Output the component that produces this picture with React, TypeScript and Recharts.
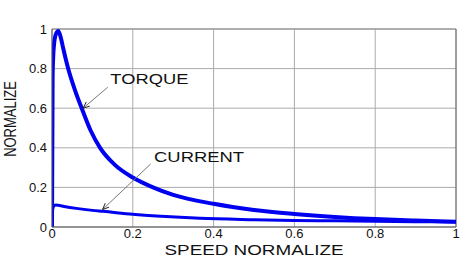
import { LineChart, Line, XAxis, YAxis, CartesianGrid, ReferenceLine, ReferenceDot } from 'recharts';

// normalized speed / torque / current samples
const torqueSpeed = [0, 0.0015, 0.003, 0.005, 0.009, 0.0156, 0.022, 0.028, 0.04, 0.057, 0.0735, 0.095, 0.119, 0.155, 0.2, 0.25, 0.3, 0.4, 0.5, 0.6, 0.7, 0.8, 0.9, 1];
const torqueValues = [0, 0.75, 0.86, 0.92, 0.97, 0.99, 0.955, 0.9, 0.8, 0.69, 0.6, 0.49, 0.4, 0.315, 0.25, 0.2, 0.162, 0.117, 0.086, 0.066, 0.051, 0.04, 0.0325, 0.027];

const currentSpeed = [0, 0.001, 0.004, 0.009, 0.015, 0.03, 0.06, 0.1, 0.127, 0.2, 0.27, 0.366, 0.5, 0.6, 0.7, 0.8, 0.9, 1];
const currentValues = [0, 0.08, 0.105, 0.111, 0.11, 0.104, 0.094, 0.084, 0.079, 0.064, 0.054, 0.044, 0.037, 0.033, 0.031, 0.029, 0.027, 0.025];

const xTicks = [0, 0.2, 0.4, 0.6, 0.8, 1];
const yTicks = [0, 0.2, 0.4, 0.6, 0.8, 1];

const torqueData = torqueSpeed.map((x, i) => ({ x, y: torqueValues[i] }));
const currentData = currentSpeed.map((x, i) => ({ x, y: currentValues[i] }));

const FONT = 'Liberation Sans, Arial, Helvetica, sans-serif';
const BLUE = '#0000f0';

function Arrow(props: any) {
  const { x1, y1, x2, y2 } = props;
  const a = Math.atan2(y2 - y1, x2 - x1);
  const len = 7;
  const spread = 0.4;
  const p1 = `${x2 - len * Math.cos(a - spread)},${y2 - len * Math.sin(a - spread)}`;
  const p2 = `${x2 - len * Math.cos(a + spread)},${y2 - len * Math.sin(a + spread)}`;
  return (
    <g>
      <line x1={x1} y1={y1} x2={x2} y2={y2} stroke="#777" strokeWidth={1} />
      <polyline points={`${p1} ${x2},${y2} ${p2}`} fill="none" stroke="#222" strokeWidth={1} />
    </g>
  );
}

function Note(text: string, length: number) {
  return (props: any) => (
    <text
      x={props.cx}
      y={props.cy}
      textAnchor="middle"
      dominantBaseline="central"
      fontFamily={FONT}
      fontSize={14}
      fill="#111"
      textLength={length}
      lengthAdjust="spacingAndGlyphs"
    >
      {text}
    </text>
  );
}

function XTitle(props: any) {
  const { viewBox } = props;
  return (
    <text
      x={viewBox.x + viewBox.width / 2}
      y={255}
      textAnchor="middle"
      fontFamily={FONT}
      fontSize={15}
      fill="#111"
      textLength={179}
      lengthAdjust="spacingAndGlyphs"
    >
      SPEED NORMALIZE
    </text>
  );
}

function YTitle() {
  return (
    <text
      transform="translate(10,119) rotate(-90) scale(1,1.26)"
      textAnchor="middle"
      dominantBaseline="central"
      fontFamily={FONT}
      fontSize={13}
      fill="#111"
    >
      NORMALIZE
    </text>
  );
}

export default function App() {
  const tick = { fill: '#111', fontSize: 13, fontFamily: FONT };
  return (
    <div style={{ position: 'absolute', left: 0, top: 0, background: '#fff' }}>
      <LineChart width={474} height={262} margin={{ top: 29, right: 18, bottom: 0, left: 0 }}>
        <CartesianGrid stroke="#ababab" strokeWidth={1} />
        <XAxis
          type="number"
          dataKey="x"
          domain={[0, 1]}
          ticks={xTicks}
          height={35}
          tick={tick}
          tickLine={false}
          tickSize={0}
          tickMargin={2}
          stroke="#555"
          label={<XTitle />}
          allowDataOverflow
        />
        <YAxis
          type="number"
          dataKey="y"
          domain={[0, 1]}
          ticks={yTicks}
          width={52}
          tick={tick}
          tickLine={false}
          tickSize={0}
          tickMargin={5}
          stroke="#555"
          label={<YTitle />}
          allowDataOverflow
        />
        <ReferenceLine y={1} stroke="#888" />
        <ReferenceLine x={1} stroke="#666" />
        <Line
          data={torqueData}
          dataKey="y"
          type="monotone"
          stroke={BLUE}
          strokeWidth={4}
          dot={false}
          isAnimationActive={false}
        />
        <Line
          data={currentData}
          dataKey="y"
          type="monotone"
          stroke={BLUE}
          strokeWidth={3}
          dot={false}
          isAnimationActive={false}
        />
        <ReferenceLine segment={[{ x: 0.138, y: 0.706 }, { x: 0.077, y: 0.6 }]} shape={Arrow} />
        <ReferenceLine segment={[{ x: 0.244, y: 0.318 }, { x: 0.125, y: 0.088 }]} shape={Arrow} />
        <ReferenceDot x={0.241} y={0.745} r={0} shape={Note('TORQUE', 78)} />
        <ReferenceDot x={0.364} y={0.355} r={0} shape={Note('CURRENT', 90)} />
      </LineChart>
    </div>
  );
}
